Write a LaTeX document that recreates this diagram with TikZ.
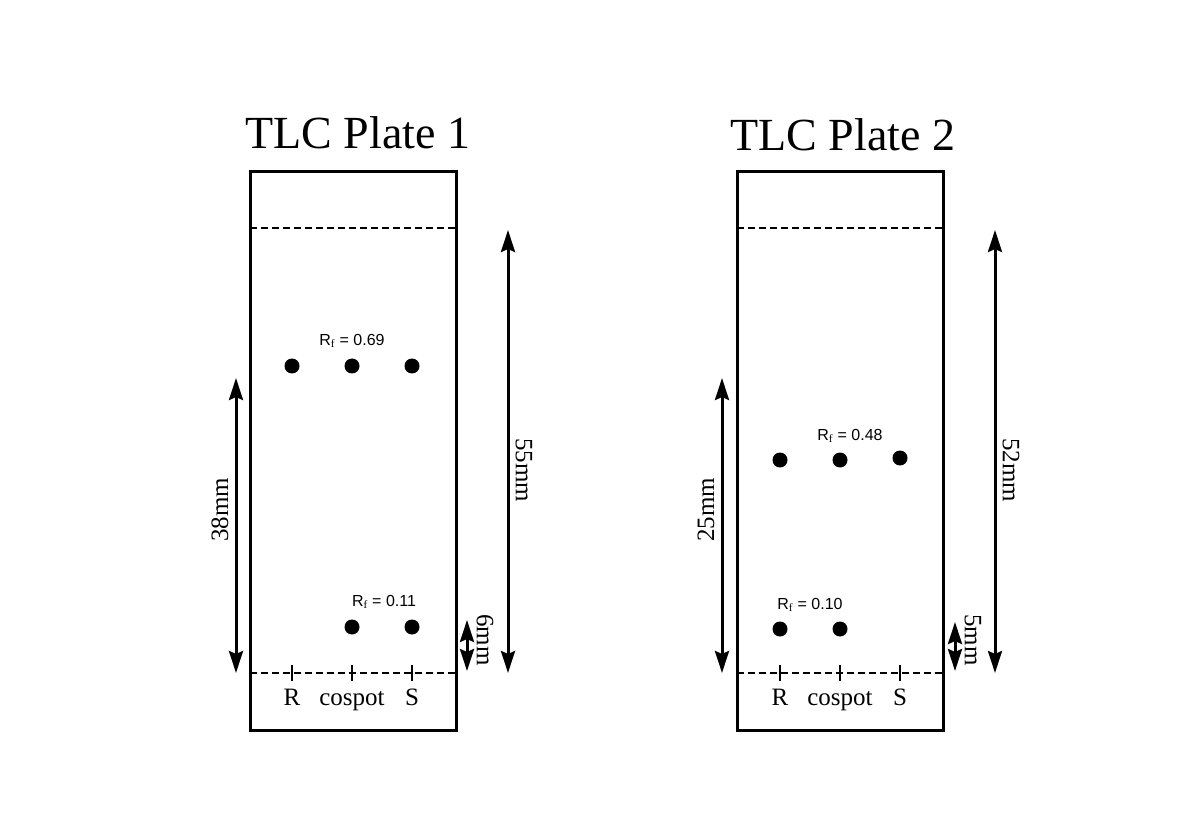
\documentclass[tikz,border=0pt]{standalone}
\usepackage{fontspec}
\setmainfont{Liberation Serif}
\newfontfamily\rfsans{Liberation Sans}
\usetikzlibrary{arrows.meta}
\begin{document}
\begin{tikzpicture}[x=1pt,y=-1pt,
  plate/.style={draw,line width=3pt},
  front/.style={line width=2.4pt,dash pattern=on 7pt off 4pt},
  spot/.style={circle,fill=black,inner sep=0pt,minimum size=15pt},
  dim/.style={line width=3pt,{Stealth[length=22pt,width=14pt,inset=3pt]}-{Stealth[length=22pt,width=14pt,inset=3pt]}},
  dimlbl/.style={font=\fontsize{25}{25}\selectfont},
  rf/.style={font=\rfsans\fontsize{16}{16}\selectfont},
  ttl/.style={font=\fontsize{46}{46}\selectfont},
  lane/.style={font=\fontsize{25}{25}\selectfont,anchor=base}]
\useasboundingbox (0,0) rectangle (1200,834);
% Plate 1
\node[ttl] (t1) at (358,133) {TLC Plate 1};
\draw[plate] (250,172) rectangle (456,730);
\coordinate (s1a) at (250,228); \coordinate (s1b) at (456,228);
\draw[front] (s1a) -- (s1b);
\coordinate (b1a) at (250,673); \coordinate (b1b) at (456,673);
\draw[front] (b1a) -- (b1b);
\foreach \x in {292,352,412}{\draw[line width=2.4pt] (\x,665) -- (\x,681);}
\node[lane] (r1) at (292,705) {R};
\node[lane] (c1) at (352,705) {cospot};
\node[lane] (q1) at (412,705) {S};
\node[spot] (p1a) at (292,366) {};
\node[spot] (p1b) at (352,366) {};
\node[spot] (p1c) at (412,366) {};
\node[spot] (p1d) at (352,627) {};
\node[spot] (p1e) at (412,627) {};
\node[rf] (rf1) at (352,341) {R$_\mathrm{f}$ = 0.69};
\node[rf] (rf2) at (384,602) {R$_\mathrm{f}$ = 0.11};
\coordinate (a1t) at (236,378); \coordinate (a1b) at (236,673);
\draw[dim] (a1t) -- (a1b);
\node[dimlbl,rotate=90] (l38) at (220,510) {38mm};
\coordinate (a2t) at (508,230); \coordinate (a2b) at (508,673);
\draw[dim] (a2t) -- (a2b);
\node[dimlbl,rotate=-90] (l55) at (524,470) {55mm};
\coordinate (a3t) at (467,620); \coordinate (a3b) at (467,671);
\draw[dim] (a3t) -- (a3b);
\node[dimlbl,rotate=-90] (l6) at (485,640) {6mm};
% Plate 2
\node[ttl] (t2) at (843,135) {TLC Plate 2};
\draw[plate] (737,172) rectangle (943,730);
\coordinate (s2a) at (737,228); \coordinate (s2b) at (943,228);
\draw[front] (s2a) -- (s2b);
\coordinate (b2a) at (737,673); \coordinate (b2b) at (943,673);
\draw[front] (b2a) -- (b2b);
\foreach \x in {780,840,900}{\draw[line width=2.4pt] (\x,665) -- (\x,681);}
\node[lane] (r2) at (780,705) {R};
\node[lane] (c2) at (840,705) {cospot};
\node[lane] (q2) at (900,705) {S};
\node[spot] (p2a) at (780,460) {};
\node[spot] (p2b) at (840,460) {};
\node[spot] (p2c) at (900,458) {};
\node[spot] (p2d) at (780,629) {};
\node[spot] (p2e) at (840,629) {};
\node[rf] (rf3) at (850,436) {R$_\mathrm{f}$ = 0.48};
\node[rf] (rf4) at (810,605) {R$_\mathrm{f}$ = 0.10};
\coordinate (b1t) at (722,378); \coordinate (b1bb) at (722,673);
\draw[dim] (b1t) -- (b1bb);
\node[dimlbl,rotate=90] (l25) at (706,510) {25mm};
\coordinate (b2t) at (995,230); \coordinate (b2bb) at (995,673);
\draw[dim] (b2t) -- (b2bb);
\node[dimlbl,rotate=-90] (l52) at (1011,470) {52mm};
\coordinate (b3t) at (955,622); \coordinate (b3b) at (955,671);
\draw[dim] (b3t) -- (b3b);
\node[dimlbl,rotate=-90] (l5) at (973,640) {5mm};
\end{tikzpicture}
\end{document}
